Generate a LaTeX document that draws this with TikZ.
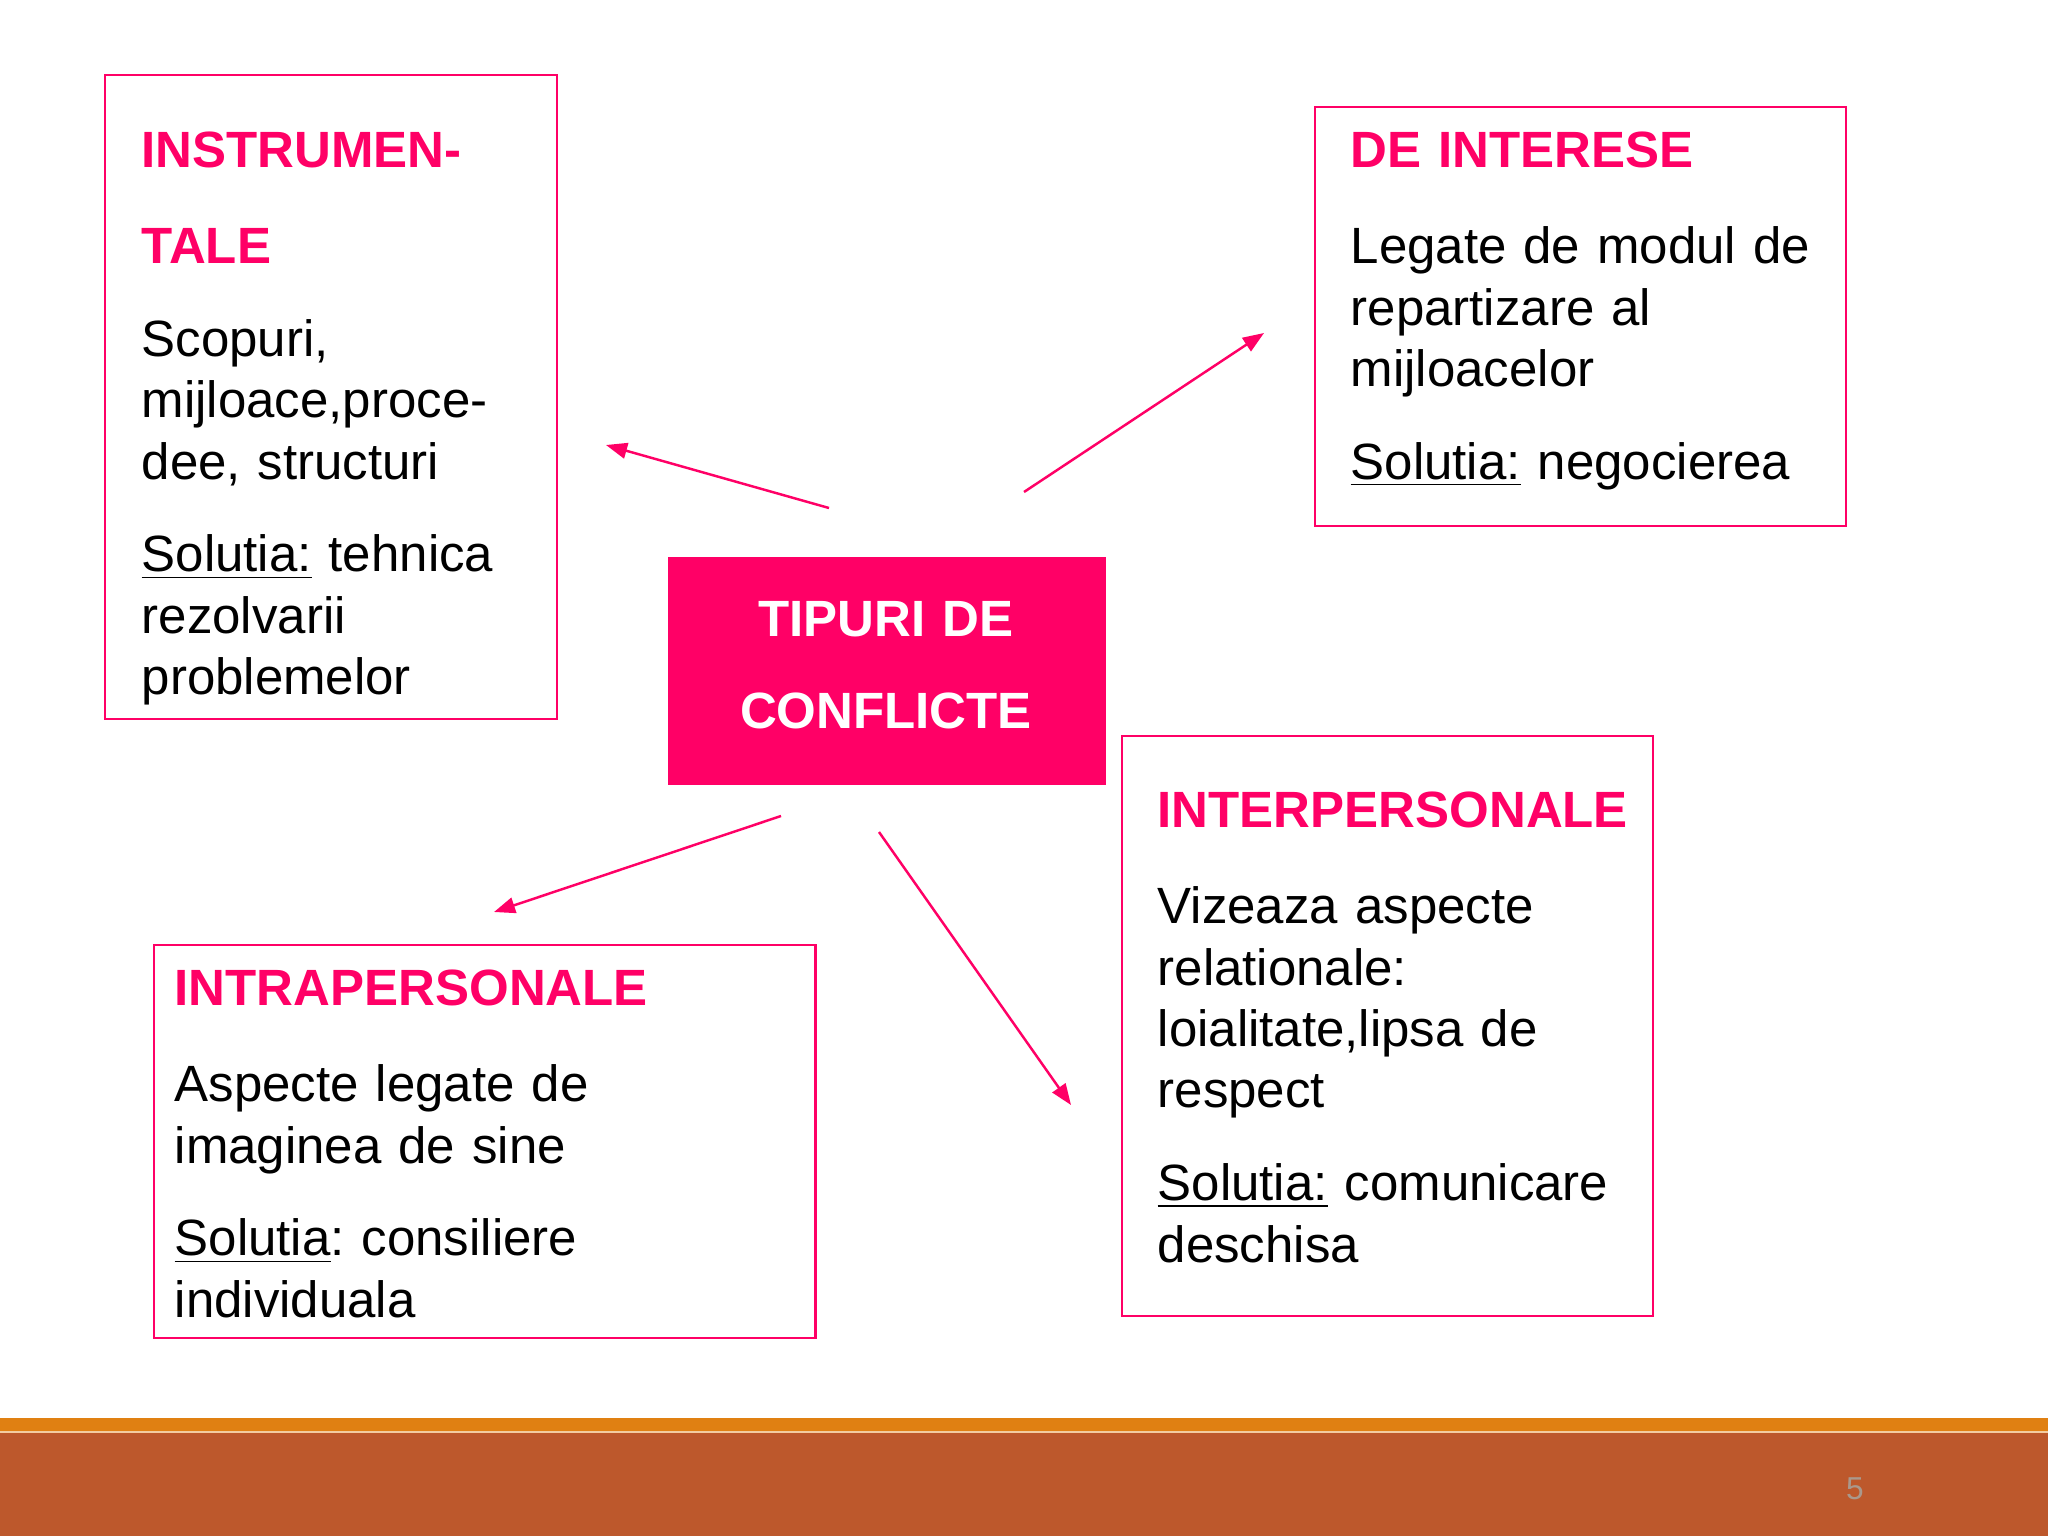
\documentclass[tikz,border=0pt]{standalone}
\usepackage{fontspec}
\setmainfont{Liberation Sans}
\usetikzlibrary{arrows.meta,positioning}
\definecolor{mypink}{RGB}{255,0,102}
\definecolor{barorange}{RGB}{224,128,18}
\definecolor{barbrown}{RGB}{189,88,44}
\definecolor{pagegray}{RGB}{170,152,140}

\tikzset{
  kindbox/.style={draw=mypink, line width=0.6pt, anchor=north west, inner sep=0pt},
  kindtext/.style={anchor=base west, text width=8cm, align=left, inner sep=0pt,
    font=\fontsize{14.5}{17.47}\selectfont\frenchspacing},
  arr/.style={mypink, line width=0.7pt, -{Triangle[length=6pt,width=4.5pt]}}
}
\newcommand{\hd}[1]{\textcolor{mypink}{\textbf{#1}}}

\begin{document}
\begin{tikzpicture}[x=0.01cm,y=-0.01cm]
  \useasboundingbox (0,0) rectangle (2048,1536);
  \fill[white] (0,0) rectangle (2048,1536);

  % footer bar
  \fill[barorange] (0,1418) rectangle (2048,1432);
  \fill[barbrown] (0,1432) rectangle (2048,1536);
  \draw[barorange!40, line width=0.6pt] (0,1432) -- (2048,1432);
  \node[text=pagegray, font=\fontsize{9}{11}\selectfont] (pagenr) at (1855,1489) {5};

  % boxes
  \node[kindbox, minimum width=4.52cm, minimum height=6.44cm] (instr) at (104,74) {};
  \node[kindbox, minimum width=5.31cm, minimum height=4.19cm] (interese) at (1314,106) {};
  \node[kindbox, minimum width=5.31cm, minimum height=5.80cm] (interp) at (1121,735) {};
  \node[kindbox, minimum width=6.61cm, minimum height=3.93cm] (intrap) at (153,944) {};
  \node[fill=mypink, anchor=north west, inner sep=0pt,
    minimum width=4.38cm, minimum height=2.28cm] (tipuri) at (667,556) {};

  \node[anchor=base, text width=4.2cm, align=center, inner sep=0pt, text=white,
    font=\fontsize{14.5}{17.47}\selectfont\bfseries] (tipuritxt) at (886,636)
    {TIPURI DE\hspace*{0.28em}\\[8.9pt]CONFLICTE};

  \node[kindtext] (instrtxt) at (141,167)
    {\hd{INSTRUMEN-}\\[10pt]\hd{TALE}\\[8.9pt]Scopuri,\\mijloace,proce-\\dee, structuri\\[8.9pt]%
     \underline{Solutia:} tehnica\\rezolvarii\\problemelor};
  \node[kindtext] (interesetxt) at (1350,167)
    {\hd{DE INTERESE}\\[10pt]Legate de modul de\\repartizare al\\mijloacelor\\[8.9pt]%
     \underline{Solutia:} negocierea};
  \node[kindtext] (interptxt) at (1157,827)
    {\hd{INTERPERSONALE}\\[10pt]Vizeaza aspecte\\relationale:\\loialitate,lipsa de\\respect\\[8.9pt]%
     \underline{Solutia:} comunicare\\deschisa};
  \node[kindtext] (intraptxt) at (174,1005)
    {\hd{INTRAPERSONALE}\\[10pt]Aspecte legate de\\imaginea de sine\\[8.9pt]%
     \underline{Solutia}: consiliere\\individuala};

  % arrows
  \coordinate (a1) at (829,508);  \coordinate (b1) at (606,445);
  \coordinate (a2) at (1024,492); \coordinate (b2) at (1264,333);
  \coordinate (a3) at (781,816);  \coordinate (b3) at (494,912);
  \coordinate (a4) at (879,832);  \coordinate (b4) at (1071,1105);
  \foreach \i in {1,...,4}
    \draw[arr] (a\i) -- (b\i);
\end{tikzpicture}
\end{document}
